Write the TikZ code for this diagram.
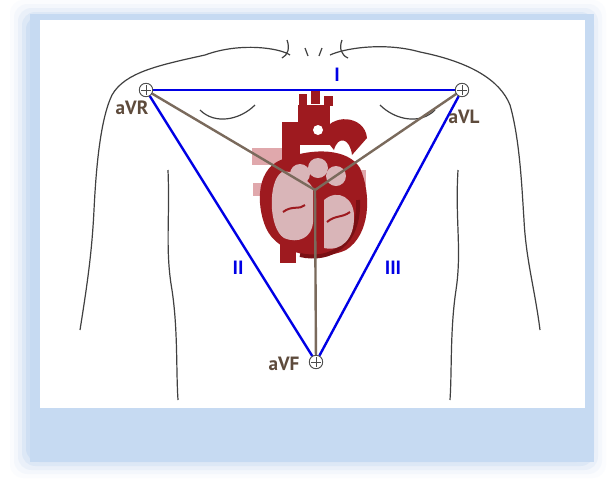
\documentclass[tikz,border=0pt]{standalone}
\usepackage{fontspec}
\setmainfont{PT Sans}
\definecolor{frameblue}{HTML}{C6DAF2}
\definecolor{hred}{HTML}{9E1A1F}
\definecolor{hdark}{HTML}{7A1014}
\definecolor{hpink}{HTML}{E0A8AC}
\definecolor{hlight}{HTML}{D9B5B8}
\definecolor{axbrown}{HTML}{7A6A5C}
\definecolor{lblbrown}{HTML}{5E4B3C}
\begin{document}
\begin{tikzpicture}[x=0.75pt,y=-0.75pt,
  lead/.style={blue!90!black,line width=1.8pt},
  axis/.style={axbrown,line width=1.8pt},
  body/.style={black!75,line width=0.9pt},
  elec/.style={circle,draw=black!70,fill=white,line width=0.6pt,minimum size=10pt,inner sep=0pt},
  lbl/.style={text=lblbrown,font=\bfseries\Large},
  llbl/.style={text=blue!90!black,font=\bfseries\Large}]
\useasboundingbox (0,0) rectangle (612,480);
\fill[white] (0,0) rectangle (612,480);
\foreach \i/\o in {0/10,4/20,8/35,12/60,16/100}{
  \fill[frameblue,opacity=\o/100*0.6,rounded corners=10] (10+\i,0+\i) rectangle (606-\i,478-\i);}
\fill[frameblue] (30,14) rectangle (594,462);
\fill[white] (40,20) rectangle (585,408);
% body
\draw[body] (290,55) .. controls (280,48) and (240,42) .. (205,55) .. controls (160,65) and (125,72) .. (112,95) .. controls (100,120) and (96,170) .. (94,210) .. controls (92,250) and (88,280) .. (80,330);
\draw[body] (330,55) .. controls (345,48) and (385,42) .. (420,52) .. controls (470,62) and (500,80) .. (510,105) .. controls (520,140) and (522,190) .. (524,220) .. controls (526,260) and (535,290) .. (540,330);
\draw[body] (168,170) .. controls (170,220) and (165,250) .. (172,290) .. controls (178,330) and (176,370) .. (178,400);
\draw[body] (458,170) .. controls (455,220) and (462,250) .. (456,290) .. controls (450,330) and (452,370) .. (450,400);
\draw[body] (287,40) .. controls (290,48) and (288,55) .. (282,58);
\draw[body] (342,40) .. controls (339,48) and (341,55) .. (348,58);
\draw[body] (305,48) -- (308,56); \draw[body] (322,48) -- (319,56);
\draw[body] (200,110) .. controls (215,125) and (240,120) .. (255,105);
\draw[body] (380,105) .. controls (395,120) and (420,125) .. (435,110);
% heart
\fill[hpink] (252,148) rectangle (290,165);
\fill[hpink] (253,183) rectangle (285,196);
\fill[hpink] (345,170) rectangle (366,186);
\fill[hpink] (345,203) rectangle (366,218);
\fill[hred] (282,122) rectangle (300,180);
\fill[hred] (298,105) rectangle (330,145);
\fill[hred] (299,106) rectangle (307,94); \fill[hred] (311,104) rectangle (320,90); \fill[hred] (324,106) rectangle (333,96);
\fill[hred] (322,135) .. controls (330,112) and (365,115) .. (367,138) -- (352,155) .. controls (350,138) and (338,135) .. (334,150) -- cycle;
\fill[white] (318,130) circle (5);
\fill[hred] (287,158) .. controls (255,165) and (256,205) .. (266,228) .. controls (278,255) and (320,262) .. (346,250) .. controls (370,235) and (372,195) .. (360,168) .. controls (348,148) and (312,148) .. (287,158) -- cycle;
\fill[hred] (280,230) rectangle (296,263);
\draw[hdark,line width=3pt] (300,255) .. controls (330,262) and (360,245) .. (358,200);
\fill[hlight] (282,172) .. controls (268,180) and (268,228) .. (284,238) .. controls (298,244) and (312,238) .. (313,222) -- (313,188) .. controls (305,176) and (294,170) .. (282,172) -- cycle;
\fill[hlight] (324,200) .. controls (338,188) and (355,198) .. (354,218) .. controls (354,238) and (342,252) .. (324,248) -- cycle;
\fill[hlight] (300,174) circle (10); \fill[hlight] (318,168) circle (10); \fill[hlight] (336,176) circle (10);
\draw[hred,line width=1.5pt] (283,212) .. controls (292,205) and (300,210) .. (305,205);
\draw[hred,line width=1.5pt] (327,222) .. controls (335,215) and (342,218) .. (350,212);
% nodes
\node[elec] (vr) at (146,90) {};
\node[elec] (vl) at (462,90) {};
\node[elec] (vf) at (316,362) {};
\coordinate (c) at (315,190);
\draw[axis] (vr) -- (c); \draw[axis] (vl) -- (c); \draw[axis] (vf) -- (c);
\draw[lead] (vr) -- (vl); \draw[lead] (vr) -- (vf); \draw[lead] (vl) -- (vf);
\foreach \n in {vr,vl,vf}{\node[elec] at (\n) {}; \draw[black!70,line width=0.5pt] ([xshift=-3.5pt]\n.center) -- ([xshift=3.5pt]\n.center) ([yshift=-3.5pt]\n.center) -- ([yshift=3.5pt]\n.center);}
\node[lbl] (avr) at (132,108) {aVR};
\node[lbl] (avl) at (464,117) {aVL};
\node[lbl] (avf) at (284,364) {aVF};
\node[llbl] (l1) at (337,75) {I};
\node[llbl] (l2) at (238,268) {II};
\node[llbl] (l3) at (393,268) {III};
\end{tikzpicture}
\end{document}
